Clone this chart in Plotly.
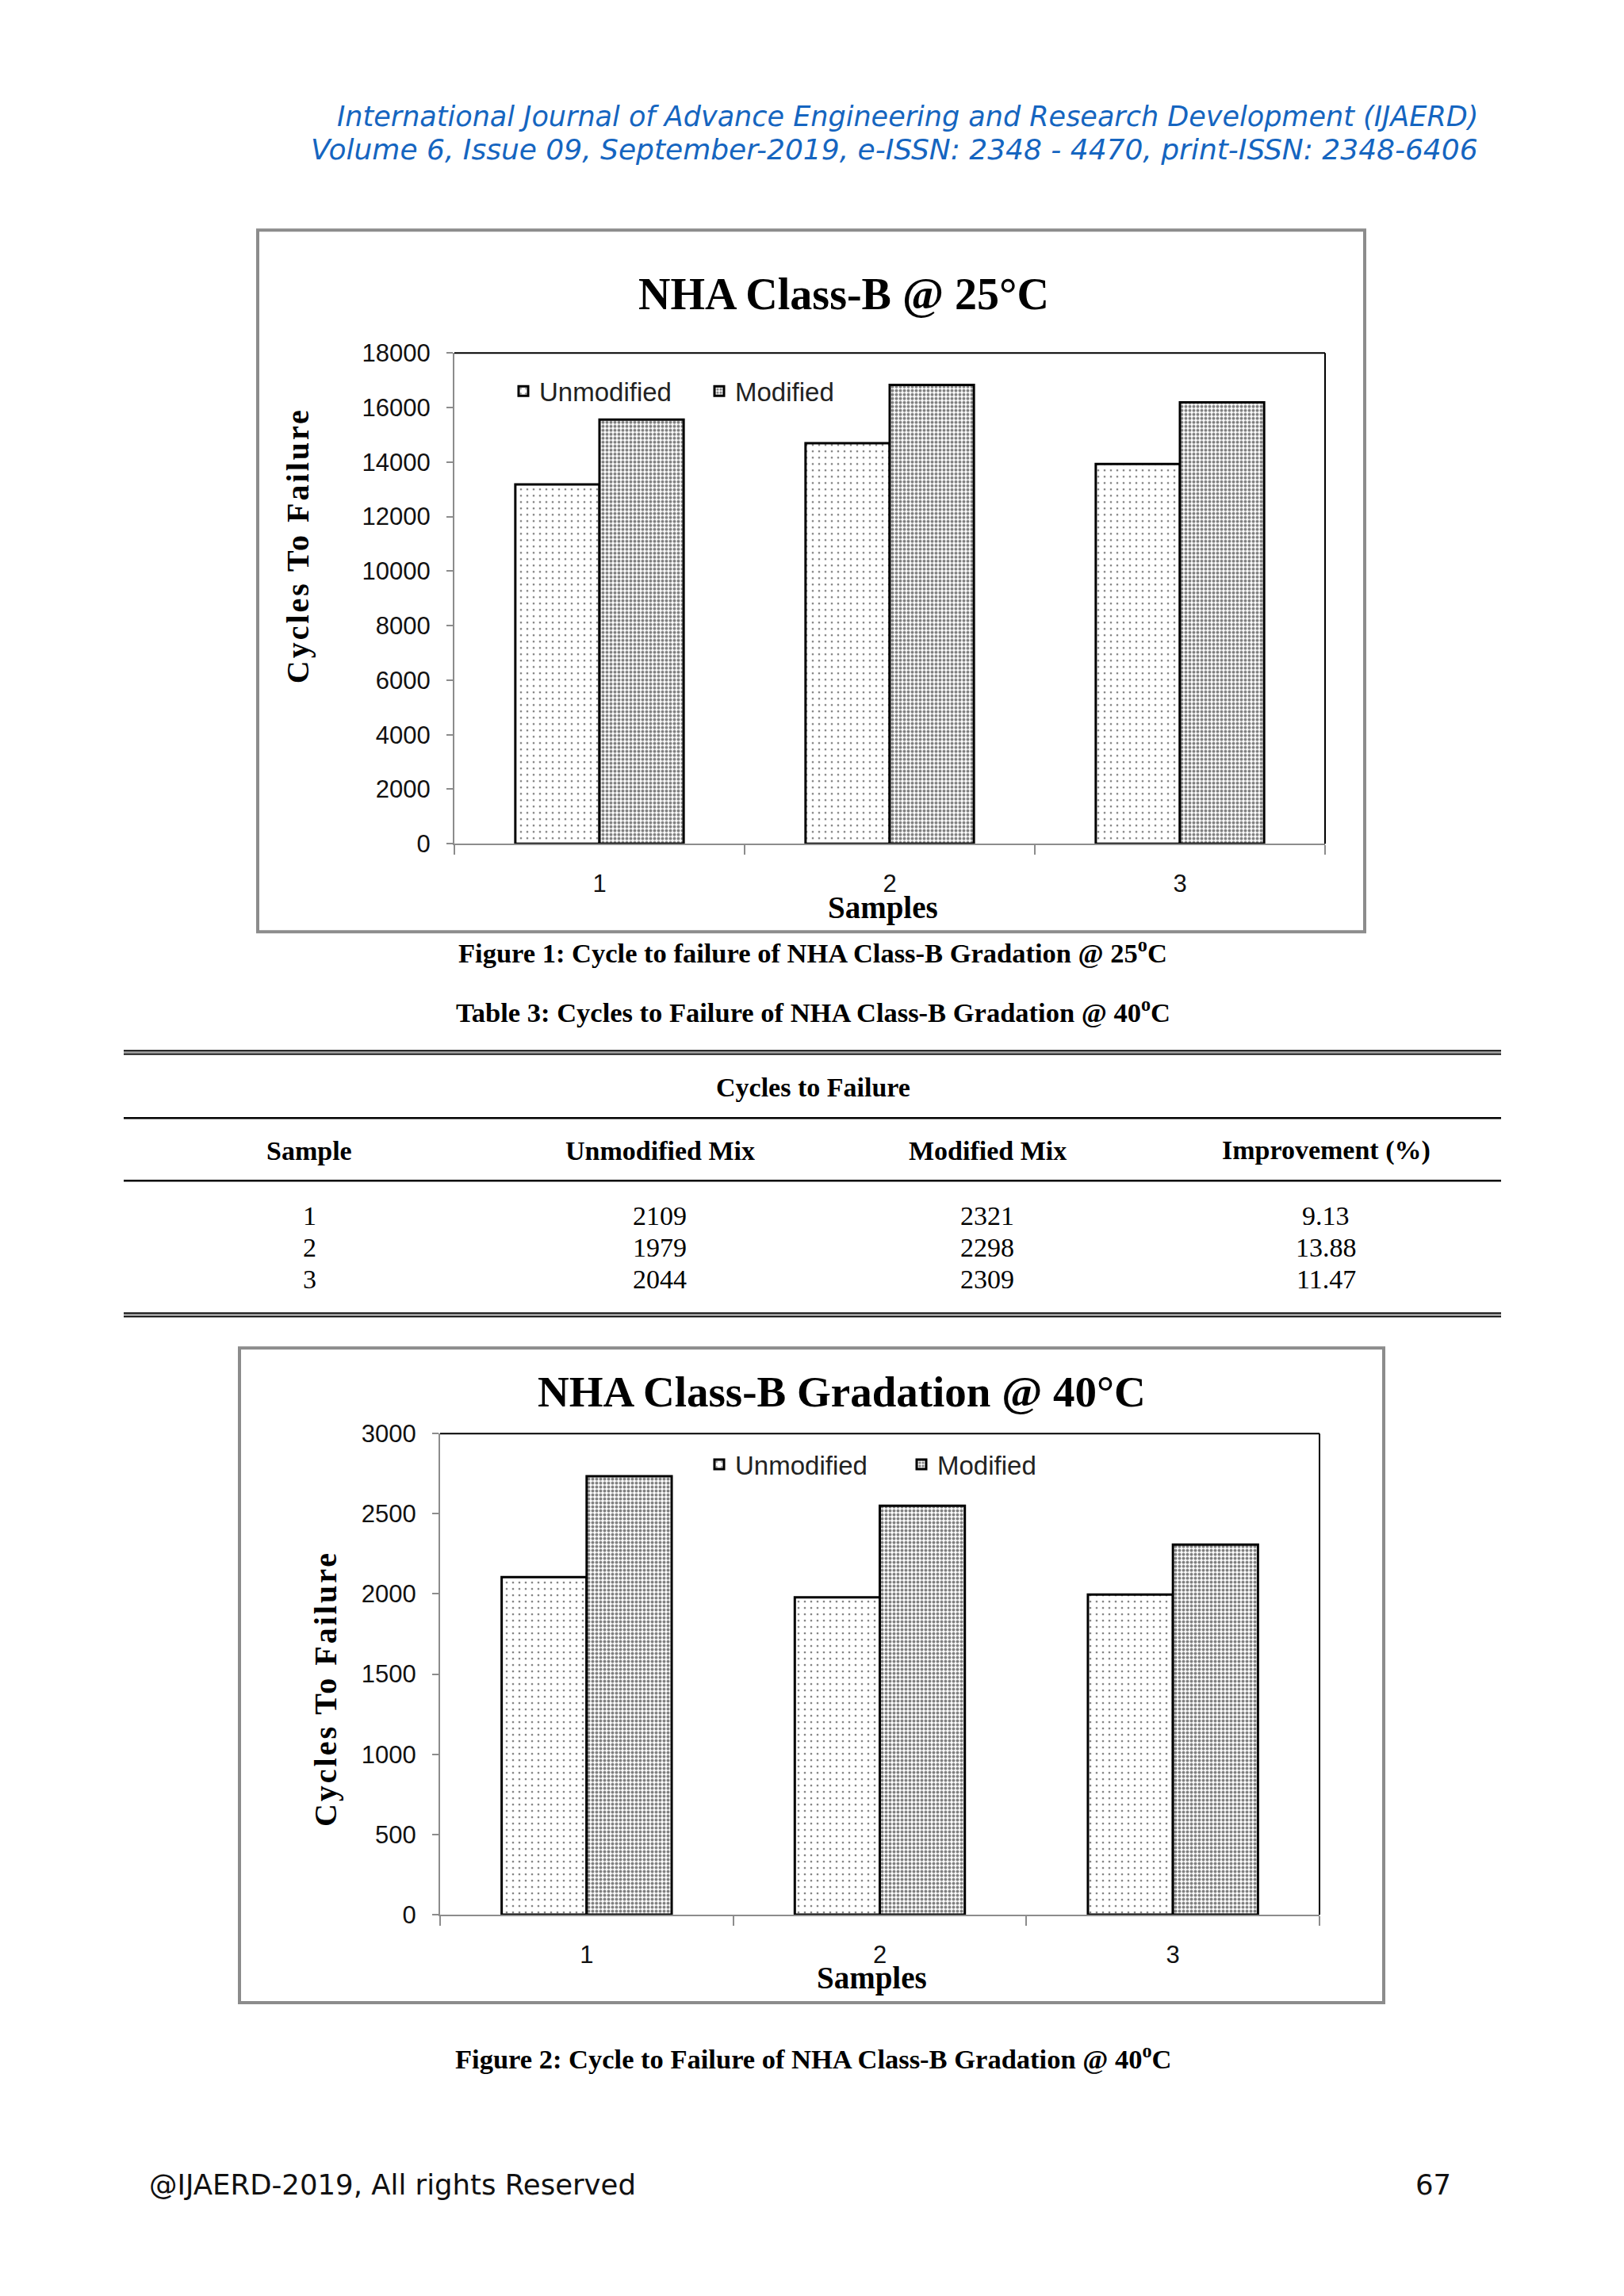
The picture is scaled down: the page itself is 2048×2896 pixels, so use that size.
import plotly.graph_objects as go

# ---------------- data ----------------
samples = ["1", "2", "3"]
series_names = ["Unmodified", "Modified"]

# Figure 1 (25°C) values
fig1_unmodified = [13180, 14690, 13930]
fig1_modified = [15560, 16830, 16190]

# Figure 2 (40°C) values
fig2_unmodified = [2105, 1979, 1996]
fig2_modified = [2734, 2550, 2307]

# Table 3 values
table_samples = ["1", "2", "3"]
table_unmodified_mix = ["2109", "1979", "2044"]
table_modified_mix = ["2321", "2298", "2309"]
table_improvement = ["9.13", "13.88", "11.47"]
table_headers = ["Sample", "Unmodified Mix", "Modified Mix", "Improvement (%)"]

fig1_yticks = [0, 2000, 4000, 6000, 8000, 10000, 12000, 14000, 16000, 18000]
fig2_yticks = [0, 500, 1000, 1500, 2000, 2500, 3000]

W = 2048
HF = 2896
# empirical correction between figure pixels and the captured page
VS, VOFF = 0.988, 14.7


def px(x):
    return x / W


def py(y):
    f = (y - VOFF) / VS
    return 1 - f / HF


SERIF = "Liberation Serif, Times New Roman, serif"
SANS = "Liberation Sans, Arial, sans-serif"
VERD = "DejaVu Sans, Verdana, sans-serif"

fig = go.Figure()

patterns = [
    dict(shape=".", size=8, solidity=0.09, fgcolor="black", bgcolor="white"),
    dict(shape=".", size=5, solidity=0.5, fgcolor="black", bgcolor="white"),
]

for i, (name, vals) in enumerate(zip(series_names, [fig1_unmodified, fig1_modified])):
    fig.add_trace(go.Bar(
        x=samples, y=vals, name=name, xaxis="x", yaxis="y", legend="legend",
        marker=dict(color="white", pattern=patterns[i], line=dict(color="black", width=3)),
    ))
for i, (name, vals) in enumerate(zip(series_names, [fig2_unmodified, fig2_modified])):
    fig.add_trace(go.Bar(
        x=samples, y=vals, name=name, xaxis="x2", yaxis="y2", legend="legend2",
        marker=dict(color="white", pattern=patterns[i], line=dict(color="black", width=3)),
    ))

axis_common_x = dict(
    type="category", showline=True, linecolor="#8c8c8c", linewidth=2,
    ticks="outside", tickson="boundaries", ticklen=12, tickcolor="#8c8c8c", tickwidth=2,
    showgrid=False, zeroline=False, tickfont=dict(family=SANS, size=31, color="#111"),
    ticklabelstandoff=22,
)
axis_common_y = dict(
    showline=True, linecolor="#8c8c8c", linewidth=2, ticks="outside", ticklen=8,
    tickcolor="#8c8c8c", tickwidth=2, showgrid=False, zeroline=False,
    tickfont=dict(family=SANS, size=31, color="#111"), ticklabelstandoff=14,
)

fig.update_layout(
    width=W, height=HF, margin=dict(l=0, r=0, t=0, b=0),
    paper_bgcolor="white", plot_bgcolor="white",
    barmode="group", bargap=0.42, bargroupgap=0,
    xaxis=dict(domain=[px(573), px(1671)], anchor="y", **axis_common_x),
    yaxis=dict(domain=[py(1062), py(443)], anchor="x", range=[0, 18000],
               tickvals=fig1_yticks, ticktext=[str(v) for v in fig1_yticks], **axis_common_y),
    xaxis2=dict(domain=[px(555), px(1664)], anchor="y2", **axis_common_x),
    yaxis2=dict(domain=[py(2413), py(1806)], anchor="x2", range=[0, 3000],
                tickvals=fig2_yticks, ticktext=[str(v) for v in fig2_yticks], **axis_common_y),
    legend=dict(orientation="h", x=px(640), y=py(491), xanchor="left", yanchor="middle",
                bgcolor="rgba(0,0,0,0)", font=dict(family=SANS, size=33, color="#222"),
                entrywidth=202, entrywidthmode="pixels", traceorder="normal"),
    legend2=dict(orientation="h", x=px(887), y=py(1845), xanchor="left", yanchor="middle",
                 bgcolor="rgba(0,0,0,0)", font=dict(family=SANS, size=33, color="#222"),
                 entrywidth=210, entrywidthmode="pixels", traceorder="normal"),
    showlegend=True,
)

shapes = []
# outer chart frames
shapes.append(dict(type="rect", xref="paper", yref="paper", x0=px(325), x1=px(1721),
                   y0=py(1173), y1=py(288), line=dict(color="#8c8c8c", width=4)))
shapes.append(dict(type="rect", xref="paper", yref="paper", x0=px(302), x1=px(1745),
                   y0=py(2524), y1=py(1698), line=dict(color="#8c8c8c", width=4)))
# plot-area top and right borders
for xr, yr in [("x", "y"), ("x2", "y2")]:
    shapes.append(dict(type="line", xref=f"{xr} domain", yref=f"{yr} domain",
                       x0=0, x1=1, y0=1, y1=1, line=dict(color="black", width=2)))
    shapes.append(dict(type="line", xref=f"{xr} domain", yref=f"{yr} domain",
                       x0=1, x1=1, y0=0, y1=1, line=dict(color="black", width=2)))

# table rules
TX0, TX1 = px(156), px(1893)


def hline(y, color="black", width=2):
    shapes.append(dict(type="line", xref="paper", yref="paper", x0=TX0, x1=TX1,
                       y0=py(y), y1=py(y), line=dict(color=color, width=width)))


hline(1325, "#9a9a9a", 6)
hline(1323, "black", 1.5)
hline(1327.5, "black", 1.5)
hline(1408, "black", 2.5)
hline(1487, "black", 2.5)
hline(1656, "#9a9a9a", 6)
hline(1654, "black", 1.5)
hline(1658.5, "black", 1.5)

fig.update_layout(shapes=shapes)

ann = []


def text(x, y, s, size, family=SERIF, color="black", xanchor="center", angle=0):
    ann.append(dict(x=px(x), y=py(y), xref="paper", yref="paper", text=s, showarrow=False,
                    xanchor=xanchor, yanchor="middle", textangle=angle,
                    font=dict(family=family, size=size, color=color)))


BLUE = "#1565c0"
text(1866, 145, "<i>International Journal of Advance Engineering and Research Development (IJAERD)</i>",
     35, VERD, BLUE, xanchor="right")
text(1866, 186, "<i>Volume 6, Issue 09, September-2019, e-ISSN: 2348 - 4470, print-ISSN: 2348-6406</i>",
     36, VERD, BLUE, xanchor="right")

YT = '<b><span style="letter-spacing:3px">Cycles To Failure</span></b>'

# chart 1 titles
text(1064, 369, "<b>NHA Class-B @ 25°C</b>", 56)
text(375, 686, YT, 40, angle=-90)
text(1113, 1143, "<b>Samples</b>", 39)

# captions
text(1025, 1197, "<b>Figure 1: Cycle to failure of NHA Class-B Gradation @ 25<sup>o</sup>C</b>", 34.5)
text(1025, 1272, "<b>Table 3: Cycles to Failure of NHA Class-B Gradation @ 40<sup>o</sup>C</b>", 34.5)

# table
col_x = [390, 832, 1245, 1672]
text(1025, 1369, "<b>Cycles to Failure</b>", 34)
for cx, h in zip(col_x, table_headers):
    text(cx, 1449, f"<b>{h}</b>", 34)
row_y = [1531, 1571, 1611]
for ry, a, b, c, d in zip(row_y, table_samples, table_unmodified_mix, table_modified_mix, table_improvement):
    for cx, v in zip(col_x, [a, b, c, d]):
        text(cx, ry, v, 34)

# chart 2 titles
text(1061, 1753, "<b>NHA Class-B Gradation @ 40°C</b>", 55)
text(410, 2128, YT, 40, angle=-90)
text(1099, 2493, "<b>Samples</b>", 39)

text(1025, 2592, "<b>Figure 2: Cycle to Failure of NHA Class-B Gradation @ 40<sup>o</sup>C</b>", 34.5)

# footer
text(186, 2753, "@IJAERD-2019, All rights Reserved", 35.5, VERD, "#111", xanchor="left")
text(1832, 2753, "67", 35.5, VERD, "#111", xanchor="right")

fig.update_layout(annotations=ann)

fig.write_html(
    "out.html",
    config={"displayModeBar": False},
    post_script="document.body.style.margin='0';document.body.style.padding='0';"
                "document.body.style.overflow='hidden';",
)
